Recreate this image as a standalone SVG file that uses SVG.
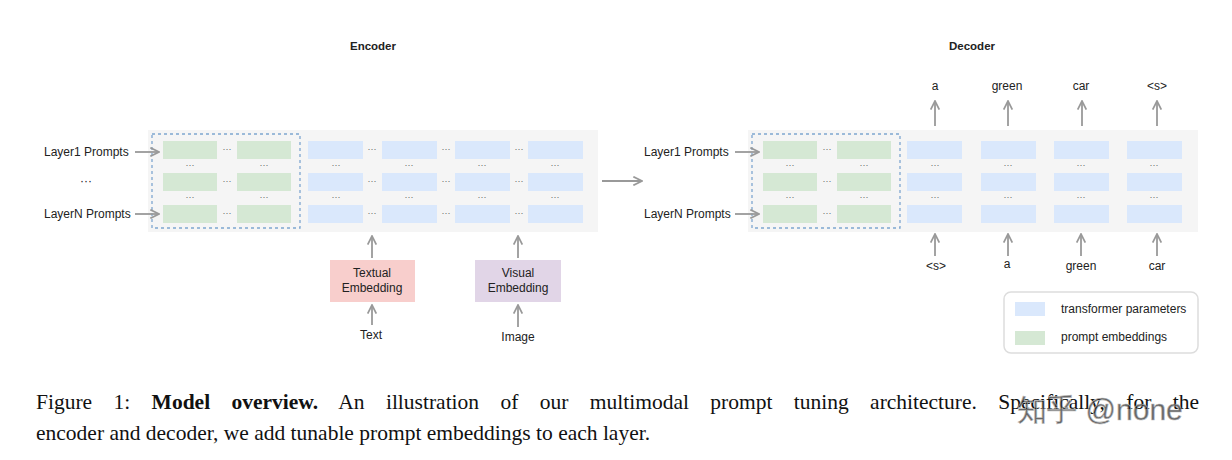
<svg xmlns="http://www.w3.org/2000/svg" width="1232" height="460" viewBox="0 0 1232 460">
<defs>
<marker id="ah" viewBox="0 0 10 10" refX="9" refY="5" markerWidth="6" markerHeight="6" orient="auto"><path d="M1,1 L9,5 L1,9" fill="none" stroke="#999" stroke-width="1.6"/></marker>
</defs>
<style>
text{font-family:"Liberation Sans",Arial,sans-serif;fill:#222}
.t{font-size:12px}
.h{font-size:11.5px;font-weight:bold}
.d{font-size:9px;fill:#666;text-anchor:middle}
.g{fill:#d5e8d4}
.b{fill:#dae8fc}
.p{fill:#f5f5f5}
.c line{stroke:#999;stroke-width:1.8;marker-end:url(#ah)}
.cap{font-family:"Liberation Serif","Times New Roman",serif;font-size:21.5px;fill:#111}
</style>
<rect width="1232" height="460" fill="#fff"/>
<text class="h" x="373" y="50" text-anchor="middle">Encoder</text>
<text class="h" x="972" y="50" text-anchor="middle">Decoder</text>

<g id="encoder">
<rect class="p" x="148" y="130" width="450" height="102"/>
<rect x="152" y="134" width="148" height="94" fill="none" stroke="#7ea6d0" stroke-width="1.3" stroke-dasharray="3,3"/>
<g id="enc-rows">
<rect class="g" x="163" y="141" width="54" height="18"/><rect class="g" x="237" y="141" width="54" height="18"/>
<rect class="g" x="163" y="173" width="54" height="18"/><rect class="g" x="237" y="173" width="54" height="18"/>
<rect class="g" x="163" y="205" width="54" height="18"/><rect class="g" x="237" y="205" width="54" height="18"/>
<rect class="b" x="308" y="141" width="55" height="18"/><rect class="b" x="382" y="141" width="55" height="18"/><rect class="b" x="455" y="141" width="55" height="18"/><rect class="b" x="528" y="141" width="55" height="18"/>
<rect class="b" x="308" y="173" width="55" height="18"/><rect class="b" x="382" y="173" width="55" height="18"/><rect class="b" x="455" y="173" width="55" height="18"/><rect class="b" x="528" y="173" width="55" height="18"/>
<rect class="b" x="308" y="205" width="55" height="18"/><rect class="b" x="382" y="205" width="55" height="18"/><rect class="b" x="455" y="205" width="55" height="18"/><rect class="b" x="528" y="205" width="55" height="18"/>
</g>
<g id="enc-dots">
<text class="d" x="227" y="152">···</text><text class="d" x="372" y="152">···</text><text class="d" x="446" y="152">···</text><text class="d" x="519" y="152">···</text>
<text class="d" x="227" y="184">···</text><text class="d" x="372" y="184">···</text><text class="d" x="446" y="184">···</text><text class="d" x="519" y="184">···</text>
<text class="d" x="227" y="216">···</text><text class="d" x="372" y="216">···</text><text class="d" x="446" y="216">···</text><text class="d" x="519" y="216">···</text>
<text class="d" x="190" y="168">···</text><text class="d" x="264" y="168">···</text><text class="d" x="336" y="168">···</text><text class="d" x="409" y="168">···</text><text class="d" x="482" y="168">···</text><text class="d" x="555" y="168">···</text>
<text class="d" x="190" y="200">···</text><text class="d" x="264" y="200">···</text><text class="d" x="336" y="200">···</text><text class="d" x="409" y="200">···</text><text class="d" x="482" y="200">···</text><text class="d" x="555" y="200">···</text>
</g>
</g>
<g id="enc-labels">
<text class="t" x="44" y="156">Layer1 Prompts</text>
<text class="t" x="86" y="185" text-anchor="middle">···</text>
<text class="t" x="44" y="218">LayerN Prompts</text>
</g>
<g id="textual-embedding"><rect x="330" y="260" width="85" height="42" fill="#f8cecc"/><text class="t" x="372" y="277" text-anchor="middle">Textual</text><text class="t" x="372" y="292" text-anchor="middle">Embedding</text></g>
<g id="visual-embedding"><rect x="475" y="260" width="86" height="42" fill="#e1d5e7"/><text class="t" x="518" y="277" text-anchor="middle">Visual</text><text class="t" x="518" y="292" text-anchor="middle">Embedding</text></g>
<g id="text-in"><text class="t" x="371" y="339" text-anchor="middle">Text</text></g>
<g id="image-in"><text class="t" x="518" y="341" text-anchor="middle">Image</text></g>

<g id="decoder">
<rect class="p" x="748" y="130" width="450" height="102"/>
<rect x="752" y="134" width="148" height="94" fill="none" stroke="#7ea6d0" stroke-width="1.3" stroke-dasharray="3,3"/>
<rect class="g" x="763" y="141" width="54" height="18"/><rect class="g" x="837" y="141" width="54" height="18"/>
<rect class="g" x="763" y="173" width="54" height="18"/><rect class="g" x="837" y="173" width="54" height="18"/>
<rect class="g" x="763" y="205" width="54" height="18"/><rect class="g" x="837" y="205" width="54" height="18"/>
<rect class="b" x="907" y="141" width="55" height="18"/><rect class="b" x="981" y="141" width="55" height="18"/><rect class="b" x="1054" y="141" width="55" height="18"/><rect class="b" x="1127" y="141" width="55" height="18"/>
<rect class="b" x="907" y="173" width="55" height="18"/><rect class="b" x="981" y="173" width="55" height="18"/><rect class="b" x="1054" y="173" width="55" height="18"/><rect class="b" x="1127" y="173" width="55" height="18"/>
<rect class="b" x="907" y="205" width="55" height="18"/><rect class="b" x="981" y="205" width="55" height="18"/><rect class="b" x="1054" y="205" width="55" height="18"/><rect class="b" x="1127" y="205" width="55" height="18"/>
<text class="d" x="827" y="152">···</text><text class="d" x="827" y="184">···</text><text class="d" x="827" y="216">···</text>
<text class="d" x="790" y="168">···</text><text class="d" x="864" y="168">···</text><text class="d" x="935" y="168">···</text><text class="d" x="1008" y="168">···</text><text class="d" x="1081" y="168">···</text><text class="d" x="1154" y="168">···</text>
<text class="d" x="790" y="200">···</text><text class="d" x="864" y="200">···</text><text class="d" x="935" y="200">···</text><text class="d" x="1008" y="200">···</text><text class="d" x="1081" y="200">···</text><text class="d" x="1154" y="200">···</text>
</g>
<g id="dec-labels">
<text class="t" x="644" y="156">Layer1 Prompts</text>
<text class="t" x="644" y="218">LayerN Prompts</text>
<text class="t" x="935" y="90" text-anchor="middle">a</text>
<text class="t" x="1007" y="90" text-anchor="middle">green</text>
<text class="t" x="1081" y="90" text-anchor="middle">car</text>
<text class="t" x="1157" y="90" text-anchor="middle">&lt;s&gt;</text>
<text class="t" x="936" y="270" text-anchor="middle">&lt;s&gt;</text>
<text class="t" x="1007" y="268" text-anchor="middle">a</text>
<text class="t" x="1081" y="270" text-anchor="middle">green</text>
<text class="t" x="1157" y="270" text-anchor="middle">car</text>
</g>
<g id="legend">
<rect x="1004" y="292" width="194" height="61" rx="7" fill="#fff" stroke="#ddd" stroke-width="1.5"/>
<rect class="b" x="1015" y="302" width="30" height="14"/><text class="t" x="1061" y="313">transformer parameters</text>
<rect class="g" x="1015" y="331" width="30" height="14"/><text class="t" x="1061" y="341">prompt embeddings</text>
</g>

<g id="connectors" class="c">
<line x1="135" y1="152" x2="159" y2="152"/>
<line x1="135" y1="214" x2="159" y2="214"/>
<line x1="735" y1="152" x2="759" y2="152"/>
<line x1="735" y1="214" x2="759" y2="214"/>
<line x1="602" y1="181" x2="642" y2="181"/>
<line x1="372" y1="258" x2="372" y2="236"/>
<line x1="518" y1="258" x2="518" y2="236"/>
<line x1="372" y1="325" x2="372" y2="305"/>
<line x1="518" y1="327" x2="518" y2="305"/>
<line x1="935" y1="126" x2="935" y2="101"/>
<line x1="1008" y1="126" x2="1008" y2="101"/>
<line x1="1082" y1="126" x2="1082" y2="101"/>
<line x1="1157" y1="126" x2="1157" y2="101"/>
<line x1="935" y1="256" x2="935" y2="234"/>
<line x1="1008" y1="256" x2="1008" y2="234"/>
<line x1="1081" y1="256" x2="1081" y2="234"/>
<line x1="1157" y1="256" x2="1157" y2="234"/>
</g>

<text class="cap" x="36" y="409" word-spacing="16"><tspan>Figure 1: </tspan><tspan font-weight="bold">Model overview.</tspan><tspan> An illustration of our multimodal prompt tuning architecture. Specifically, for the</tspan></text>
<text class="cap" x="36" y="440">encoder and decoder, we add tunable prompt embeddings to each layer.</text>
<text x="1100" y="420" text-anchor="middle" font-family="'Noto Sans CJK SC','Liberation Sans',sans-serif" font-size="30" fill="#fff" fill-opacity="0.7" stroke="#bbb" stroke-width="0.6">知乎 @none</text>
</svg>
